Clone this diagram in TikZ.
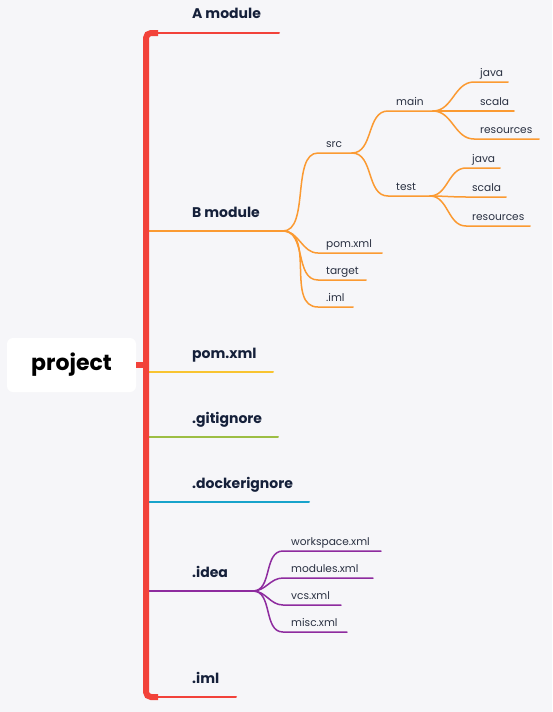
\documentclass[tikz,border=0pt]{standalone}
\usepackage{fontspec}
\setmainfont{Poppins}
\usepackage{tikz}
\usetikzlibrary{positioning}
\definecolor{bg}{HTML}{F6F6F9}
\definecolor{cred}{HTML}{F2423A}
\definecolor{corange}{HTML}{FB9A32}
\definecolor{cyellow}{HTML}{F8C431}
\definecolor{cgreen}{HTML}{9DBE44}
\definecolor{ccyan}{HTML}{18A3CB}
\definecolor{cpurple}{HTML}{8E2B9F}
\definecolor{navy}{HTML}{15203A}
\definecolor{ink}{HTML}{2A3142}
\tikzstyle{rootbox} = [rectangle, rounded corners=6pt, fill=white, minimum width=129pt, minimum height=54pt, font=\bfseries\fontsize{22}{26}\selectfont, text=black]
\tikzstyle{topic} = [anchor=base west, inner sep=0pt, font=\bfseries\fontsize{14}{16}\selectfont, text=navy]
\tikzstyle{sub} = [anchor=base west, inner sep=0pt, font=\fontsize{10.6}{12}\selectfont, text=ink]
\tikzstyle{trunk} = [line width=2pt, line cap=round]
\tikzstyle{twig} = [line width=1.5pt, line cap=round]

\begin{document}
\begin{tikzpicture}[x=1pt, y=-1pt]
    \fill[bg] (0,0) rectangle (552,712);
    \useasboundingbox (0,0) rectangle (552,712);
    \node (root) [rootbox] at (71.5,365) {project};
    \coordinate (top) at (146,33);
    \coordinate (bot) at (146,697);
    \coordinate (mid) at (146,365);
    \coordinate (amod-e) at (279,33);
    \coordinate (bmod-s) at (146,231);
    \coordinate (bmod-e) at (283,231);
    \coordinate (pom-s) at (146,372);
    \coordinate (pom-e) at (273,372);
    \coordinate (git-s) at (146,437);
    \coordinate (git-e) at (278,437);
    \coordinate (dock-s) at (146,502);
    \coordinate (dock-e) at (309,502);
    \coordinate (idea-s) at (146,591);
    \coordinate (idea-e) at (253,591);
    \coordinate (iml-e) at (236,697);
    \draw [trunk, cred] (top) -- (amod-e);
    \draw [trunk, corange] (bmod-s) -- (bmod-e);
    \draw [trunk, cyellow] (pom-s) -- (pom-e);
    \draw [trunk, cgreen] (git-s) -- (git-e);
    \draw [trunk, ccyan] (dock-s) -- (dock-e);
    \draw [trunk, cpurple] (idea-s) -- (idea-e);
    \draw [trunk, cred] (bot) -- (iml-e);
    \draw [cred, line width=6pt, rounded corners=5pt] (158,33) -- (top) -- (bot) -- (158,697);
    \draw [cred, line width=6pt] (root.east) -- (mid);
    \node (amod) [topic] at (192,19) {A module};
    \node (bmod) [topic] at (192,217) {B module};
    \node (pom) [topic] at (192,358) {pom.xml};
    \node (git) [topic] at (192,423) {.gitignore};
    \node (dock) [topic] at (192,488) {.dockerignore};
    \node (idea) [topic] at (192,577) {.idea};
    \node (iml) [topic] at (192,683) {.iml};
    % B module
    \coordinate (bsrc-s) at (318,153);
    \coordinate (bsrc-e) at (352,153);
    \coordinate (bpom-s) at (318,253);
    \coordinate (bpom-e) at (382,253);
    \coordinate (btgt-s) at (318,280);
    \coordinate (btgt-e) at (366,280);
    \coordinate (biml-s) at (318,307);
    \coordinate (biml-e) at (353,307);
    \draw [twig, corange] (bmod-e) to[out=0, in=180, looseness=0.8] (bsrc-s) -- (bsrc-e);
    \draw [twig, corange] (bmod-e) to[out=0, in=180] (bpom-s) -- (bpom-e);
    \draw [twig, corange] (bmod-e) to[out=0, in=180] (btgt-s) -- (btgt-e);
    \draw [twig, corange] (bmod-e) to[out=0, in=180] (biml-s) -- (biml-e);
    \node (bsrc) [sub] at (326,147) {src};
    \node (bpom) [sub] at (326,247) {pom.xml};
    \node (btgt) [sub] at (326,274) {target};
    \node (biml) [sub] at (326,301) {.iml};
    \coordinate (bmain-s) at (388,111);
    \coordinate (bmain-e) at (433,111);
    \coordinate (btest-s) at (388,196);
    \coordinate (btest-e) at (430,196);
    \draw [twig, corange] (bsrc-e) to[out=0, in=180] (bmain-s) -- (bmain-e);
    \draw [twig, corange] (bsrc-e) to[out=0, in=180] (btest-s) -- (btest-e);
    \node (bmain) [sub] at (396,105) {main};
    \node (btest) [sub] at (396,190) {test};
    \coordinate (bmjava-s) at (474,82);
    \coordinate (bmjava-e) at (508,82);
    \coordinate (bmscala-s) at (474,111);
    \coordinate (bmscala-e) at (514,111);
    \coordinate (bmres-s) at (474,139);
    \coordinate (bmres-e) at (539,139);
    \draw [twig, corange] (bmain-e) to[out=0, in=180] (bmjava-s) -- (bmjava-e);
    \draw [twig, corange] (bmain-e) to[out=0, in=180] (bmscala-s) -- (bmscala-e);
    \draw [twig, corange] (bmain-e) to[out=0, in=180] (bmres-s) -- (bmres-e);
    \node (bmjava) [sub] at (480,76) {java};
    \node (bmscala) [sub] at (480,105) {scala};
    \node (bmres) [sub] at (480,133) {resources};
    \coordinate (btjava-s) at (466,168);
    \coordinate (btjava-e) at (500,168);
    \coordinate (btscala-s) at (466,197);
    \coordinate (btscala-e) at (506,197);
    \coordinate (btres-s) at (466,226);
    \coordinate (btres-e) at (530,226);
    \draw [twig, corange] (btest-e) to[out=0, in=180] (btjava-s) -- (btjava-e);
    \draw [twig, corange] (btest-e) to[out=0, in=180] (btscala-s) -- (btscala-e);
    \draw [twig, corange] (btest-e) to[out=0, in=180] (btres-s) -- (btres-e);
    \node (btjava) [sub] at (472,162) {java};
    \node (btscala) [sub] at (472,191) {scala};
    \node (btres) [sub] at (472,220) {resources};
    % .idea
    \coordinate (iws-s) at (283,551);
    \coordinate (iws-e) at (381,551);
    \coordinate (imod-s) at (283,578);
    \coordinate (imod-e) at (373,578);
    \coordinate (ivcs-s) at (283,605);
    \coordinate (ivcs-e) at (341,605);
    \coordinate (imisc-s) at (283,632);
    \coordinate (imisc-e) at (347,632);
    \draw [twig, cpurple] (idea-e) to[out=0, in=180] (iws-s) -- (iws-e);
    \draw [twig, cpurple] (idea-e) to[out=0, in=180] (imod-s) -- (imod-e);
    \draw [twig, cpurple] (idea-e) to[out=0, in=180] (ivcs-s) -- (ivcs-e);
    \draw [twig, cpurple] (idea-e) to[out=0, in=180] (imisc-s) -- (imisc-e);
    \node (iws) [sub] at (291,545) {workspace.xml};
    \node (imod) [sub] at (291,572) {modules.xml};
    \node (ivcs) [sub] at (291,599) {vcs.xml};
    \node (imisc) [sub] at (291,626) {misc.xml};
\end{tikzpicture}
\end{document}
